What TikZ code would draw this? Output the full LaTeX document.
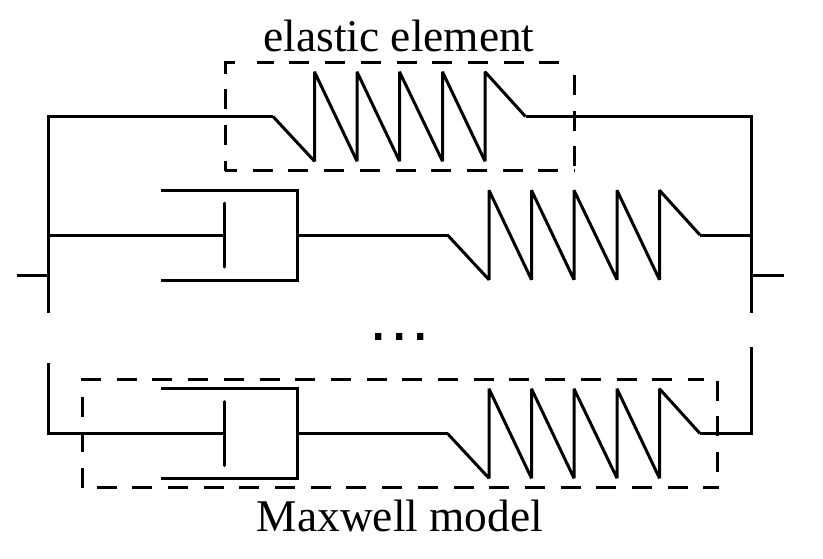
\documentclass[tikz,border=0pt]{standalone}
\usepackage{fontspec}
\setmainfont{Liberation Serif}
\newfontfamily\dotfont{Liberation Sans}
\tikzset{
  wire/.style={line width=3pt,black,line cap=butt,line join=miter},
  boxdash/.style={line width=3pt,black,dash pattern=on 20pt off 15.7pt},
  lbl/.style={font=\fontsize{45.4pt}{50pt}\selectfont,anchor=base,inner sep=0pt,text=black},
  spring/.pic={
    \draw[wire,line join=bevel] (0,0) -- (41.5,44.7) -- (41.5,-44.7) -- (84,44.7) -- (84,-44.7)
      -- (126.5,44.7) -- (126.5,-44.7) -- (169.5,44.7) -- (169.5,-44.7) -- (212,44.7)
      -- (212,-44.7) -- (252.5,0);
  },
  piston/.pic={
    \draw[wire] (-136.5,-45) -- (0,-45) -- (0,45) -- (-136.5,45);
    \draw[wire,line cap=round] (-73.5,-32) -- (-73.5,32);
  }
}
\begin{document}
\begin{tikzpicture}[x=1pt,y=-1pt]
\useasboundingbox (0,0) rectangle (823,558);
% junction points
\coordinate (ltop) at (48.5,116.5);
\coordinate (rtop) at (751,116.5);
\coordinate (lmid) at (48.5,235);
\coordinate (rmid) at (751,235);
\coordinate (lend) at (48.5,313);
\coordinate (rend) at (751,313);
\coordinate (lstub) at (48.5,275.3);
\coordinate (rstub) at (751,275.3);
\coordinate (inl) at (16.5,275.3);
\coordinate (outr) at (783.5,275.3);
\coordinate (lbot) at (48.5,433.5);
\coordinate (rbot) at (751,433.5);
\coordinate (lbotend) at (48.5,362.5);
\coordinate (rbotend) at (751,346.5);
\coordinate (s1a) at (273,116.5);
\coordinate (s1b) at (525.5,116.5);
\coordinate (s2a) at (447.5,235);
\coordinate (s2b) at (700,235);
\coordinate (s3a) at (447.5,433.5);
\coordinate (s3b) at (700,433.5);
\coordinate (p2) at (297.5,235);
\coordinate (p2r) at (224,235);
\coordinate (p3) at (297.5,433.5);
\coordinate (p3r) at (224,433.5);
% springs and dashpots
\pic at (s1a) {spring};
\pic at (s2a) {spring};
\pic at (s3a) {spring};
\pic at (p2) {piston};
\pic at (p3) {piston};
% wires
\draw[wire] (lend) -- (ltop) -- (s1a);
\draw[wire] (s1b) -- (rtop) -- (rend);
\draw[wire] (lmid) -- (p2r);
\draw[wire] (p2) -- (s2a);
\draw[wire] (s2b) -- (rmid);
\draw[wire] (inl) -- (lstub);
\draw[wire] (rstub) -- (outr);
\draw[wire] (lbotend) -- (lbot) -- (p3r);
\draw[wire] (p3) -- (s3a);
\draw[wire] (s3b) -- (rbot) -- (rbotend);
% elastic element box
\coordinate (eTL) at (225,62.7);
\coordinate (eTR) at (574.5,62.7);
\coordinate (eBL) at (225,170.7);
\coordinate (eBR) at (574.5,170.7);
\draw[boxdash,dash phase=3pt] (eTL) ++(31.7,0) -- (eTR);
\draw[boxdash] (eTL) ++(-1.5,0) -- ++(11.5,0);
\draw[boxdash,dash phase=9pt] (eTL) -- (eBL);
\draw[boxdash,dash phase=8pt] (eBL) -- (eBR);
\draw[boxdash] (574.5,75) -- (eBR);
% Maxwell box
\coordinate (mTL) at (82,379.7);
\coordinate (mTR) at (717.5,379.7);
\coordinate (mBL) at (82,487.7);
\coordinate (mBR) at (717.5,487.7);
\draw[boxdash] (81,379.7) -- (703.5,379.7);
\draw[boxdash] (82,396.7) -- (mBL);
\draw[boxdash] (96.5,487.7) -- (718.7,487.7);
\draw[boxdash] (717.5,380.5) -- (mBR);
% labels
\node[lbl] (elastic) at (399,51.7) {elastic element};
\node[lbl] (maxwell) at (400,531.7) {Maxwell model};
\node[inner sep=0pt,anchor=base,font=\dotfont\fontsize{66pt}{66pt}\selectfont] (dots) at (399.8,340.5) {.\hspace{2.7pt}.\hspace{2.7pt}.};
\end{tikzpicture}
\end{document}
